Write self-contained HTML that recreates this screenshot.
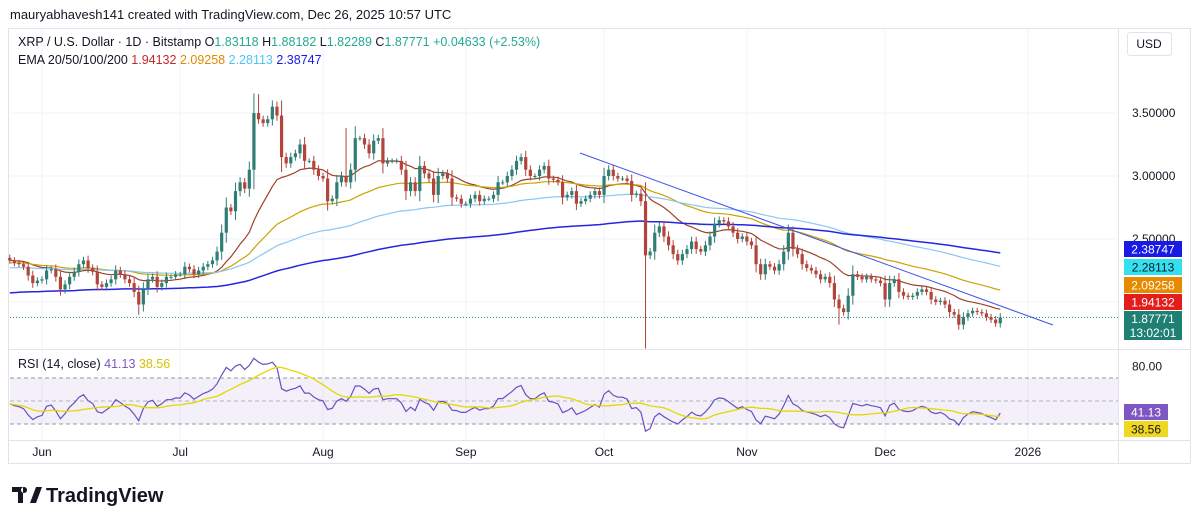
<!DOCTYPE html>
<html><head><meta charset="utf-8">
<style>
body{margin:0;width:1200px;height:525px;background:#fff;overflow:hidden;font-family:"Liberation Sans",sans-serif;}
svg text{font-family:"Liberation Sans",sans-serif;}
</style></head>
<body>
<svg id="c" width="1200" height="525" viewBox="0 0 1200 525" xmlns="http://www.w3.org/2000/svg">
<rect x="0" y="0" width="1200" height="525" fill="#fff"/>
<text x="10" y="19" font-size="13" fill="#131722">mauryabhavesh141 created with TradingView.com, Dec 26, 2025 10:57 UTC</text>
<rect x="8.5" y="28.5" width="1182" height="435" fill="none" stroke="#e0e3eb"/>
<line x1="1118.5" y1="29" x2="1118.5" y2="463" stroke="#e0e3eb"/>
<line x1="9" y1="349.5" x2="1190" y2="349.5" stroke="#e0e3eb"/>
<line x1="9" y1="440.5" x2="1190" y2="440.5" stroke="#e0e3eb"/>
<g id="grid"></g>
<rect x="10" y="378" width="1108" height="46" fill="#7e57c2" fill-opacity="0.09"/>
<line x1="10" y1="378" x2="1118" y2="378" stroke="#9598a1" stroke-dasharray="4,3"/>
<line x1="10" y1="401" x2="1118" y2="401" stroke="#b2b5be" stroke-dasharray="4,3"/>
<line x1="10" y1="424" x2="1118" y2="424" stroke="#9598a1" stroke-dasharray="4,3"/>
<g id="emas"></g>
<g id="candles"></g>
<line x1="580" y1="153" x2="1053" y2="325" stroke="#3f51e8" stroke-width="1"/>
<g id="rsi"></g>
<g id="axis"></g>
<text x="18" y="46" font-size="12.5" fill="#131722">XRP / U.S. Dollar · 1D · Bitstamp  <tspan>O</tspan><tspan fill="#22ab94">1.83118</tspan>  H<tspan fill="#22ab94">1.88182</tspan>  L<tspan fill="#22ab94">1.82289</tspan>  C<tspan fill="#22ab94">1.87771</tspan>  <tspan fill="#22ab94">+0.04633 (+2.53%)</tspan></text>
<text x="18" y="64" font-size="12.5" fill="#131722">EMA 20/50/100/200  <tspan fill="#c62828">1.94132</tspan>  <tspan fill="#e08a00">2.09258</tspan>  <tspan fill="#4fc3f7">2.28113</tspan>  <tspan fill="#1a1ae6">2.38747</tspan></text>
<text x="18" y="368" font-size="12.5" fill="#131722">RSI (14, close)  <tspan fill="#7e57c2">41.13</tspan>  <tspan fill="#d4c400">38.56</tspan></text>
<rect x="1127.5" y="32.5" width="44" height="23" rx="3" fill="#fff" stroke="#e0e3eb"/>
<text x="1149" y="48" font-size="12" text-anchor="middle" fill="#131722">USD</text>
<g>
<path d="M12 487h11v16h-5v-11h-6z M24 487a3 3 0 1 0 0.01 0z" fill="#131722"/>
<path d="M30 503l6-16h6l-6 16z" fill="#131722"/>
<text x="46" y="502" font-size="20" font-weight="bold" fill="#131722">TradingView</text>
</g>
</svg>
<script>
// Daily closes from 2025-05-25 to 2025-12-26
const closes = [
2.33,2.31,2.30,2.28,2.21,2.15,2.17,
2.18,2.25,2.26,2.20,2.10,2.14,2.20,2.24,2.30,2.33,2.27,2.24,2.14,2.12,2.15,2.18,2.25,2.22,2.18,2.15,2.08,1.98,2.10,2.18,2.20,2.12,2.15,2.20,2.20,2.22,
2.22,2.28,2.26,2.22,2.25,2.28,2.30,2.33,2.40,2.55,2.75,2.72,2.88,2.95,2.90,3.05,3.50,3.45,3.42,3.45,3.55,3.48,3.15,3.10,3.15,3.18,3.25,3.12,3.12,3.05,3.00,
2.98,2.80,2.82,2.95,3.00,2.95,3.05,3.30,3.30,3.25,3.18,3.28,3.30,3.10,3.12,3.12,3.12,3.05,2.88,2.95,2.88,3.08,3.02,2.98,2.85,3.00,3.02,2.98,2.83,2.82,2.78,
2.78,2.82,2.85,2.80,2.82,2.82,2.85,2.95,2.95,3.00,3.05,3.12,3.15,3.05,3.00,3.00,3.05,3.08,2.98,2.97,2.95,2.83,2.85,2.88,2.78,2.80,2.82,2.85,2.88,2.85,
3.00,3.05,3.00,2.98,2.98,2.96,2.85,2.86,2.80,2.37,2.40,2.55,2.60,2.52,2.45,2.38,2.33,2.38,2.42,2.48,2.42,2.40,2.45,2.52,2.62,2.65,2.64,2.60,2.55,2.50,2.52,
2.48,2.45,2.30,2.22,2.30,2.28,2.25,2.30,2.40,2.55,2.42,2.38,2.30,2.27,2.25,2.22,2.18,2.20,2.15,2.02,1.95,1.92,2.05,2.22,2.20,2.18,2.20,2.18,2.17,2.15,
2.02,2.15,2.18,2.08,2.05,2.04,2.05,2.08,2.10,2.08,2.02,2.00,2.01,1.98,1.92,1.90,1.82,1.88,1.91,1.93,1.92,1.91,1.88,1.86,1.83118,1.87771
];
const firstOpen = 2.35;
const highSpikes = {54:3.65, 73:3.38, 170:2.6};
const lowSpikes = {28:1.90, 138:1.63, 180:1.82, 206:1.78};
const emaPeriods = [20,50,100,200];
const emaSeeds = [2.33,2.31,2.27,2.07];
const emaColors = ["#a0412b","#c9a400","#8cc6f5","#2626e0"];
const priceTicks = [3.5,3.0,2.5];
const timeLabels = ["Jun","Jul","Aug","Sep","Oct","Nov","Dec","2026"];
const timeLabelDays = [7,37,68,99,129,160,190,221];

const NS="http://www.w3.org/2000/svg";
function mk(tag,attrs,parent){const e=document.createElementNS(NS,tag);for(const k in attrs)e.setAttribute(k,attrs[k]);parent.appendChild(e);return e;}
const xOf = i => 42 + (i-7)*4.607;
const yOf = p => 113 + (3.5-p)*126;
const yR = r => 401 - (r-50)*1.15;

const grid=document.getElementById('grid');
[3.5,3.0,2.5,2.0].forEach(p=>{const l=mk('line',{x1:10,x2:1118,y1:yOf(p),y2:yOf(p),stroke:'#f0f3fa'},grid);

});
timeLabelDays.forEach(d=>{const l=mk('line',{x1:xOf(d),x2:xOf(d),y1:29,y2:440,stroke:'#f0f3fa'},grid);

});

const emaG=document.getElementById('emas');
emaPeriods.forEach((n,k)=>{let e=emaSeeds[k];const a=2/(n+1);let pts=[];
closes.forEach((c,i)=>{e=e+a*(c-e);pts.push(xOf(i).toFixed(1)+','+yOf(e).toFixed(1));});
const pl=mk('polyline',{points:pts.join(' '),fill:'none',stroke:emaColors[k],'stroke-width':k==3?1.5:1.2},emaG);

});

const cg=document.getElementById('candles');
closes.forEach((c,i)=>{const o=i?closes[i-1]:firstOpen;const up=c>=o;
const body=Math.abs(c-o);
const hi=highSpikes[i]!==undefined?highSpikes[i]:Math.max(o,c)+0.3*body+0.02;
const lo=lowSpikes[i]!==undefined?lowSpikes[i]:Math.min(o,c)-0.3*body-0.02;
const col=up?'#2f7d74':'#b2443a';const x=xOf(i);
const g=mk('g',{},cg);


mk('line',{x1:x,x2:x,y1:yOf(hi),y2:yOf(lo),stroke:col,'stroke-width':1},g);
const yt=yOf(Math.max(o,c)),yb=yOf(Math.min(o,c));
mk('rect',{x:x-1.6,y:yt,width:3.2,height:Math.max(1,yb-yt),fill:col},g);});

const lp=mk('line',{x1:10,x2:1118,y1:yOf(closes[closes.length-1]),y2:yOf(closes[closes.length-1]),stroke:'#2f7d74','stroke-dasharray':'1,2'},cg);



let ag=0.02,al=0.022;const rsi=[];
closes.forEach((c,i)=>{if(i>0){const d=c-closes[i-1];ag=(ag*13+Math.max(d,0))/14;al=(al*13+Math.max(-d,0))/14;}rsi.push(100-100/(1+ag/al));});
const rsiMa=rsi.map((v,i)=>{const s=rsi.slice(Math.max(0,i-13),i+1);return s.reduce((a,b)=>a+b,0)/s.length;});
const rg=document.getElementById('rsi');
const rl=mk('polyline',{points:rsi.map((v,i)=>xOf(i).toFixed(1)+','+yR(v).toFixed(1)).join(' '),fill:'none',stroke:'#6a4fc0','stroke-width':1.2},rg);


const rm=mk('polyline',{points:rsiMa.map((v,i)=>xOf(i).toFixed(1)+','+yR(v).toFixed(1)).join(' '),fill:'none',stroke:'#e3d800','stroke-width':1.3},rg);



const ax=document.getElementById('axis');
priceTicks.forEach(p=>{const t=mk('text',{x:1132,y:yOf(p)+4,'font-size':12,fill:'#131722'},ax);t.textContent=p.toFixed(5);

});
const t80=mk('text',{x:1132,y:yR(80)+4,'font-size':12,fill:'#131722'},ax);t80.textContent='80.00';


timeLabels.forEach((s,k)=>{const t=mk('text',{x:xOf(timeLabelDays[k]),y:456,'font-size':12,fill:'#131722','text-anchor':'middle'},ax);t.textContent=s;

});
const tags=[["2.38747",241,"#1a1ae6","#fff"],["2.28113",259,"#33e0f0","#131722"],["2.09258",277,"#e68a00","#fff"],["1.94132",294,"#e31c1c","#fff"]];
tags.forEach(t=>{const g=mk('g',{},ax);


mk('rect',{x:1124,y:t[1],width:58,height:16,fill:t[2]},g);
const tx=mk('text',{x:1153,y:t[1]+12.5,'font-size':12,fill:t[3],'text-anchor':'middle'},g);tx.textContent=t[0];});
const lg=mk('g',{},ax);


mk('rect',{x:1124,y:311,width:58,height:29,fill:'#1f7f73'},lg);
const l1=mk('text',{x:1153,y:323,'font-size':12,fill:'#fff','text-anchor':'middle'},lg);l1.textContent='1.87771';
const l2=mk('text',{x:1153,y:337,'font-size':12,fill:'#fff','text-anchor':'middle'},lg);l2.textContent='13:02:01';
[["41.13",404,"#7e57c2","#fff"],["38.56",421,"#f0d820","#131722"]].forEach(t=>{const g=mk('g',{},ax);


mk('rect',{x:1124,y:t[1],width:44,height:16,fill:t[2]},g);
const tx=mk('text',{x:1146,y:t[1]+12.5,'font-size':12,fill:t[3],'text-anchor':'middle'},g);tx.textContent=t[0];});
</script>
</body></html>
